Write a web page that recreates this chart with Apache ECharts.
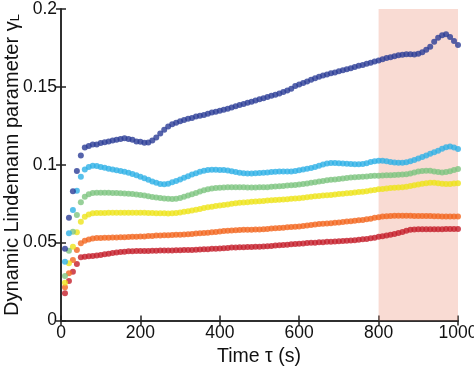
<!DOCTYPE html>
<html>
<head>
<meta charset="utf-8">
<script src="https://cdn.jsdelivr.net/npm/echarts@6/dist/echarts.min.js"></script>
<style>html,body{margin:0;padding:0;background:#fff}#c{width:474px;height:369px}</style>
</head>
<body>
<div id="c"></div>
<script>
const times = [10,20,30,40,50,60,70,80,90,100,110,120,130,140,150,160,170,180,190,200,
210,220,230,240,250,260,270,280,290,300,310,320,330,340,350,360,370,380,390,400,
410,420,430,440,450,460,470,480,490,500,510,520,530,540,550,560,570,580,590,600,
610,620,630,640,650,660,670,680,690,700,710,720,730,740,750,760,770,780,790,800,
810,820,830,840,850,860,870,880,890,900,910,920,930,940,950,960,970,980,990,1000];

const darkBlue = [0.046,0.066,0.083,0.096,0.106,0.111,0.112,0.113,0.113,0.114,
0.1145,0.115,0.1155,0.116,0.1165,0.117,0.1165,0.116,0.115,0.1147,
0.1142,0.1143,0.1155,0.1175,0.120,0.1225,0.1245,0.126,0.127,0.128,
0.1288,0.1295,0.130,0.131,0.1315,0.132,0.1328,0.1335,0.134,0.1347,
0.1353,0.136,0.1368,0.1375,0.1383,0.139,0.1398,0.1405,0.1413,0.142,
0.1427,0.1435,0.1443,0.145,0.1458,0.1467,0.1477,0.1488,0.1505,0.1515,
0.1525,0.1535,0.1545,0.1555,0.1565,0.1573,0.158,0.1587,0.1593,0.16,
0.1607,0.1613,0.162,0.1627,0.1635,0.164,0.1648,0.1655,0.1663,0.167,
0.1678,0.1685,0.169,0.1697,0.1703,0.1707,0.171,0.171,0.1708,0.1712,
0.1722,0.1738,0.1758,0.179,0.1815,0.1832,0.1838,0.182,0.1795,0.1769];

const lightBlue = [0.0378,0.056,0.071,0.0833,0.0923,0.097,0.0985,0.0994,0.0992,0.0985,
0.098,0.0975,0.097,0.0965,0.096,0.0955,0.0948,0.094,0.0932,0.0923,
0.0913,0.0903,0.0893,0.0884,0.0877,0.0875,0.0878,0.0887,0.0896,0.0906,
0.0916,0.0926,0.0937,0.0946,0.0955,0.0962,0.0966,0.0968,0.0968,0.0967,
0.0966,0.0963,0.0958,0.0953,0.0949,0.0946,0.0944,0.0944,0.0945,0.0947,
0.0949,0.0951,0.0953,0.0955,0.0956,0.0956,0.0956,0.0957,0.096,0.0965,
0.097,0.0975,0.0979,0.0985,0.0993,0.1001,0.1008,0.1011,0.1012,0.101,
0.1008,0.1007,0.1005,0.1003,0.1003,0.1005,0.101,0.1017,0.1023,0.1026,
0.1025,0.1022,0.1018,0.1015,0.1013,0.1013,0.1016,0.1022,0.103,0.104,
0.105,0.106,0.107,0.108,0.109,0.1102,0.1113,0.1117,0.111,0.1101];

const green = [0.0286,0.0448,0.057,0.0677,0.0759,0.0795,0.081,0.0818,0.0821,0.0821,
0.082,0.082,0.0819,0.0818,0.0817,0.0816,0.0814,0.0812,0.0809,0.0806,
0.0802,0.0797,0.0793,0.079,0.0786,0.0783,0.0781,0.078,0.0782,0.0787,
0.0794,0.0802,0.081,0.0819,0.0828,0.0836,0.0842,0.0847,0.085,0.0852,
0.0854,0.0855,0.0855,0.0855,0.0855,0.0855,0.0854,0.0854,0.0854,0.0855,
0.0855,0.0856,0.0858,0.086,0.0862,0.0864,0.0866,0.0868,0.087,0.0873,
0.0876,0.088,0.0884,0.0888,0.0892,0.0896,0.09,0.0903,0.0906,0.0909,
0.0912,0.0915,0.0918,0.092,0.0922,0.0923,0.0925,0.0927,0.0929,0.093,
0.0931,0.0932,0.0933,0.0934,0.0935,0.0937,0.0939,0.0944,0.095,0.0956,
0.096,0.0962,0.0961,0.0957,0.0953,0.0951,0.0953,0.0958,0.0966,0.0973];

const yellow = [0.0243,0.0367,0.0474,0.0566,0.0634,0.0666,0.068,0.0688,0.069,0.0691,
0.0691,0.0692,0.0692,0.0692,0.0692,0.0692,0.0692,0.0692,0.0692,0.0692,
0.0692,0.0691,0.069,0.0689,0.0688,0.0688,0.0687,0.0688,0.069,0.0694,
0.0698,0.0702,0.0706,0.0711,0.0716,0.0722,0.0727,0.0731,0.0735,0.0738,
0.0741,0.0745,0.0749,0.0753,0.0756,0.0758,0.076,0.0762,0.0764,0.0766,
0.0768,0.077,0.0772,0.0774,0.0775,0.0777,0.0779,0.0781,0.0783,0.0785,
0.0788,0.0791,0.0794,0.0797,0.08,0.0802,0.0804,0.0806,0.0809,0.0812,
0.0814,0.0817,0.0819,0.0822,0.0825,0.0827,0.083,0.0834,0.0838,0.0842,
0.0845,0.0848,0.085,0.0852,0.0854,0.0856,0.0859,0.0863,0.0868,0.0873,
0.0878,0.0882,0.0885,0.0885,0.0882,0.0878,0.0876,0.0877,0.0879,0.0881];

const orange = [0.0213,0.0303,0.0388,0.0453,0.0496,0.0512,0.052,0.0526,0.0529,0.053,
0.0531,0.0532,0.0533,0.0533,0.0534,0.0535,0.0536,0.0537,0.0538,0.0539,
0.054,0.0542,0.0543,0.0545,0.0546,0.0547,0.0548,0.0549,0.055,0.0551,
0.0552,0.0554,0.0556,0.0558,0.056,0.0562,0.0564,0.0567,0.0569,0.0572,
0.0575,0.0577,0.0578,0.058,0.0581,0.0582,0.0582,0.0583,0.0584,0.0585,
0.0586,0.0588,0.059,0.0592,0.0594,0.0596,0.0598,0.06,0.0602,0.0604,
0.0607,0.061,0.0613,0.0616,0.0619,0.0621,0.0623,0.0625,0.0627,0.063,
0.0633,0.0636,0.0638,0.064,0.0643,0.0646,0.065,0.0654,0.0659,0.0663,
0.0667,0.067,0.0671,0.0672,0.0672,0.0672,0.0672,0.0672,0.0671,0.0671,
0.0671,0.0671,0.0671,0.067,0.0669,0.0668,0.0667,0.0667,0.0667,0.0667];

const red = [0.0175,0.0254,0.0313,0.0363,0.0406,0.041,0.0412,0.0414,0.0417,0.042,
0.0425,0.0429,0.0433,0.0437,0.044,0.0442,0.0444,0.0445,0.0446,0.0446,
0.0447,0.0447,0.0448,0.0448,0.0449,0.0449,0.045,0.045,0.0451,0.0451,
0.0452,0.0453,0.0453,0.0454,0.0456,0.0457,0.0458,0.046,0.0461,0.0463,
0.0464,0.0466,0.0468,0.0469,0.047,0.0471,0.0472,0.0472,0.0473,0.0474,
0.0475,0.0477,0.0479,0.0481,0.0483,0.0485,0.0487,0.0489,0.0491,0.0493,
0.0495,0.0497,0.0499,0.05,0.0502,0.0503,0.0505,0.0506,0.0508,0.0509,
0.051,0.0512,0.0514,0.0516,0.0518,0.0521,0.0524,0.0528,0.0532,0.0537,
0.0541,0.0545,0.055,0.0556,0.0562,0.0569,0.0576,0.0582,0.0585,0.0586,
0.0586,0.0586,0.0586,0.0586,0.0586,0.0586,0.0587,0.0587,0.0587,0.0587];

const xTicks = [0, 200, 400, 600, 800, 1000];
const yTicks = [0, 0.05, 0.1, 0.15, 0.2];
const shadeRange = [800, 1000];
const xTitle = 'Time τ (s)';
const yTitle = 'Dynamic Lindemann parameter γ{sub|L}';

const seriesDefs = [
  {name: 'red', data: red, color: '#c41e2a'},
  {name: 'orange', data: orange, color: '#f2661f'},
  {name: 'yellow', data: yellow, color: '#eee31a'},
  {name: 'green', data: green, color: '#7dc47f'},
  {name: 'lightBlue', data: lightBlue, color: '#2eb0e6'},
  {name: 'darkBlue', data: darkBlue, color: '#2a3c96'}
];

const font = 'Liberation Sans, Arial, Helvetica, sans-serif';
const ink = '#111';
const chart = echarts.init(document.getElementById('c'), null, {renderer: 'canvas'});

const series = seriesDefs.map(s => ({
  type: 'scatter',
  name: s.name,
  symbol: 'circle',
  symbolSize: 6,
  itemStyle: {color: s.color},
  z: 2,
  data: times.map((t, i) => [t, s.data[i]])
}));
series.push({
  type: 'scatter',
  name: 'shade',
  data: [],
  z: 5,
  silent: true,
  markArea: {
    silent: true,
    itemStyle: {color: 'rgba(240,160,140,0.38)'},
    data: [[{xAxis: shadeRange[0]}, {xAxis: shadeRange[1]}]]
  }
});

const axisLine = {show: true, lineStyle: {color: '#222', width: 1.5}};
const tick = {show: true, inside: true, length: 5, lineStyle: {color: '#222', width: 1.5}};
chart.setOption({
  animation: false,
  backgroundColor: '#fff',
  grid: {left: 61, right: 16, top: 9, bottom: 48.5, show: false, containLabel: false, outerBoundsMode: 'none'},
  graphic: [{
    type: 'text', left: null, x: 259, y: 357,
    style: {text: xTitle, fontFamily: font, fontSize: 19.5, fill: ink, align: 'center', verticalAlign: 'middle'}
  }, {
    type: 'text', x: 12, y: 165, rotation: Math.PI / 2,
    style: {text: yTitle, fontFamily: font, fontSize: 20, fill: ink, align: 'center', verticalAlign: 'middle',
      rich: {sub: {fontFamily: font, fontSize: 13, fill: ink, verticalAlign: 'bottom', padding: [7, 0, 0, 0]}}}
  }],
  xAxis: [{
    type: 'value', min: xTicks[0], max: xTicks[xTicks.length - 1], interval: 200,
    axisLine: axisLine, axisTick: tick,
    axisLabel: {fontFamily: font, fontSize: 17.5, color: ink, margin: 4, formatter: v => String(v)},
    splitLine: {show: false}
  }, {
    type: 'value', position: 'top', min: xTicks[0], max: xTicks[xTicks.length - 1], interval: 200,
    axisLine: axisLine, axisTick: tick,
    axisLabel: {show: false}, splitLine: {show: false}
  }],
  yAxis: [{
    type: 'value', min: yTicks[0], max: yTicks[yTicks.length - 1], interval: 0.05,
    axisLine: axisLine, axisTick: tick,
    axisLabel: {fontFamily: font, fontSize: 17.5, color: ink, margin: 4,
      formatter: v => (v === 0 ? '0' : String(+v.toFixed(2)))},
    splitLine: {show: false}
  }, {
    type: 'value', position: 'right', min: yTicks[0], max: yTicks[yTicks.length - 1], interval: 0.05,
    axisLine: axisLine, axisTick: tick,
    axisLabel: {show: false}, splitLine: {show: false}
  }],
  series: series
});
</script>
</body>
</html>
